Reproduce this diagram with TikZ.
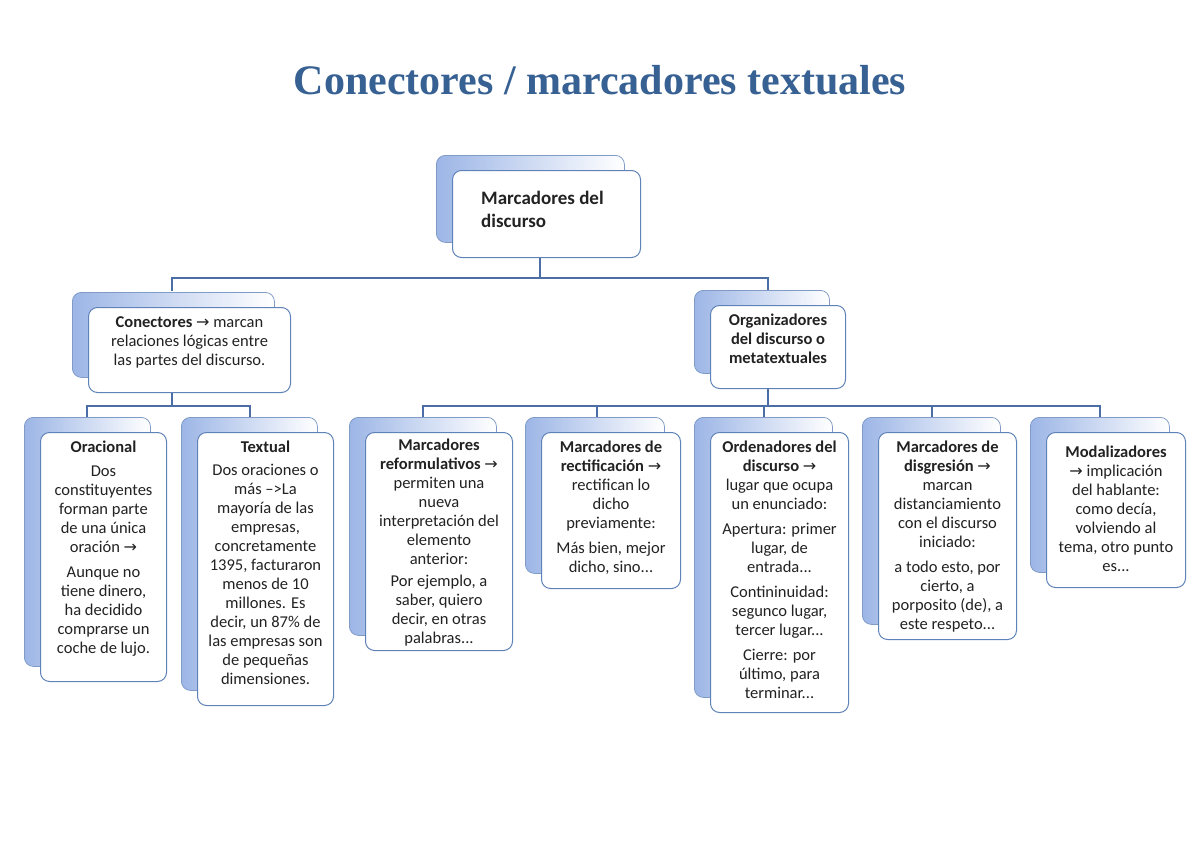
\documentclass[tikz,border=0pt]{standalone}
\usepackage{fontspec}
\setmainfont{Carlito}
\newfontfamily\titlefont{Liberation Serif}
\newfontfamily\dv{DejaVu Sans}
\newcommand{\arr}{{\dv\fontsize{16}{16}\selectfont →}}
\definecolor{bord}{HTML}{5F82B8}
\definecolor{lin}{HTML}{4A6EA5}
\definecolor{backl}{HTML}{9DB6E6}
\definecolor{ttl}{HTML}{376093}
\definecolor{txt}{HTML}{222222}
\tikzset{
  x=1pt,y=-1pt,
  backbox/.style={draw=bord!80,line width=0.8pt,rounded corners=9pt,left color=backl,right color=white,inner sep=0pt,anchor=north west},
  frontbox/.style={draw=bord,line width=1pt,rounded corners=9pt,fill=white,inner sep=0pt,anchor=north west},
  btext/.style={anchor=north,align=center,inner sep=0pt,font=\fontsize{16.5}{19}\selectfont,text=txt},
  conn/.style={draw=lin,line width=1.6pt},
}
\newcommand{\dbox}[7][-9pt]{%
  \node[backbox,minimum width={#5-#3},minimum height={#6-#4}] (#2B) at ({#3-16},{#4-15}) {};
  \node[frontbox,minimum width={#5-#3},minimum height={#6-#4}] (#2) at (#3,#4) {};
  \node[btext] (#2T) at ([yshift=#1]#2.north) {#7};
}
\begin{document}
\begin{tikzpicture}
\useasboundingbox (0,0) rectangle (1200,849);
\node[font=\titlefont\bfseries\fontsize{42}{48}\selectfont,text=ttl] (title) at (600,80) {Conectores / marcadores textuales};
% connectors
\coordinate (j1) at (540,278);
\coordinate (j2) at (172,406);
\coordinate (j3) at (768,406);
\draw[conn] (540,257) -- (j1);
\draw[conn] (172,291) |- (j1) -| (768,290);
\draw[conn] (172,375) -- (j2);
\draw[conn] (87,418) |- (j2) -| (250,418);
\draw[conn] (768,372) -- (j3);
\draw[conn] (423,418) |- (j3) -| (1100,418);
\foreach \xx in {597,764,932}{\draw[conn] (\xx,406) -- (\xx,418);}
% boxes
\dbox{root}{452}{170}{640}{257}{}
\node[btext,font=\bfseries\fontsize{19}{23}\selectfont,anchor=north west,align=left] (rootT) at (481,191) {Marcadores del\\discurso};
\dbox{con}{88}{307}{290}{392}{\textbf{Conectores} \arr{} marcan\\relaciones lógicas entre\\las partes del discurso.}
\dbox{org}{710}{305}{845}{388}{\textbf{Organizadores}\\\textbf{del discurso o}\\\textbf{metatextuales}}
\dbox{ora}{40}{432}{166}{681}{\textbf{Oracional}\\[5pt] Dos\\constituyentes\\forman parte\\de una única\\oración \arr\\[6pt] Aunque no\\tiene dinero,\\ha decidido\\comprarse un\\coche de lujo.}
\dbox{tex}{197}{432}{333}{705}{\textbf{Textual}\\[4pt] Dos oraciones o\\más -->La\\mayoría de las\\empresas,\\concretamente\\1395, facturaron\\menos de 10\\millones. Es\\decir, un 87\% de\\las empresas son\\de pequeñas\\dimensiones.}
\dbox[-7pt]{ref}{365}{432}{512}{650}{\textbf{Marcadores}\\\textbf{reformulativos} \arr\\permiten una\\nueva\\interpretación del\\elemento\\anterior:\\[3pt] Por ejemplo, a\\saber, quiero\\decir, en otras\\palabras...}
\dbox{rec}{541}{432}{680}{588}{\textbf{Marcadores de}\\\textbf{rectificación} \arr\\rectifican lo\\dicho\\previamente:\\[6pt] Más bien, mejor\\dicho, sino...}
\dbox{ord}{710}{432}{848}{712}{\textbf{Ordenadores del}\\\textbf{discurso} \arr\\lugar que ocupa\\un enunciado:\\[6pt] Apertura: primer\\lugar, de\\entrada...\\[6pt] Contininuidad:\\segunco lugar,\\tercer lugar...\\[6pt] Cierre: por\\último, para\\terminar...}
\dbox{dis}{878}{432}{1016}{639}{\textbf{Marcadores de}\\\textbf{disgresión} \arr\\marcan\\distanciamiento\\con el discurso\\iniciado:\\[6pt] a todo esto, por\\cierto, a\\porposito (de), a\\este respeto...}
\dbox[-14pt]{mod}{1046}{432}{1185}{587}{\textbf{Modalizadores}\\\arr{} implicación\\del hablante:\\como decía,\\volviendo al\\tema, otro punto\\es...}
\end{tikzpicture}
\end{document}
